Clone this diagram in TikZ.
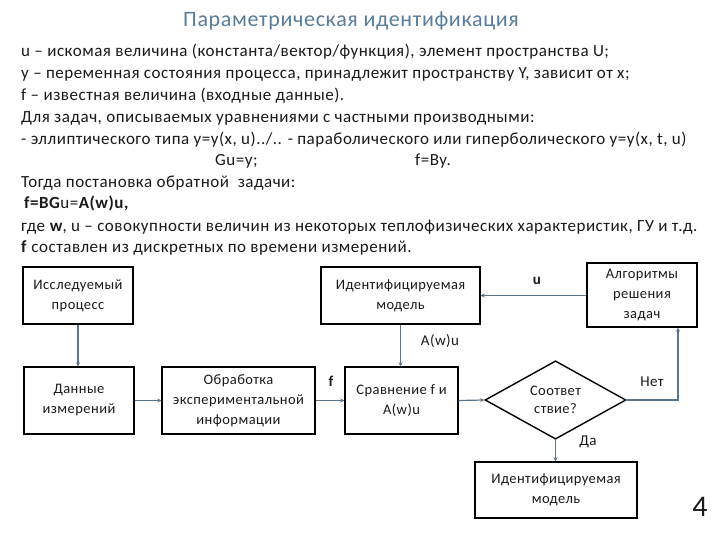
\documentclass[tikz,border=0pt]{standalone}
\usepackage{fontspec}
\setmainfont[LetterSpace=3]{Carlito}
\usetikzlibrary{shapes.geometric,arrows.meta,calc}
\definecolor{titleblue}{HTML}{5A7C9C}
\definecolor{linecol}{HTML}{5C7488}
\definecolor{txt}{HTML}{1A1A1A}
\tikzset{
  box/.style={draw=black,line width=1.4pt,fill=white,inner sep=1pt,align=center,font=\fontsize{14.5}{20}\selectfont,text=txt},
  conn/.style={draw=linecol,line width=1.2pt,-{Stealth[length=4pt,width=4pt]}},
  bodyline/.style={anchor=base west,inner sep=0pt,font=\fontsize{17}{20}\selectfont,text=txt},
  lbl/.style={inner sep=0pt,font=\fontsize{15}{17}\selectfont,text=txt}
}
\begin{document}
\begin{tikzpicture}[x=1pt,y=-1pt]
\path[use as bounding box,fill=white] (0,0) rectangle (720,540);
\node[inner sep=0pt,text=titleblue,font=\fontsize{22}{26}\selectfont] (title) at (351,21) {Параметрическая идентификация};
\node[bodyline] (t1) at (21,57) {u – искомая величина (константа/вектор/функция), элемент пространства U;};
\node[bodyline] (t2) at (21,79) {y – переменная состояния процесса, принадлежит пространству Y, зависит от x;};
\node[bodyline] (t3) at (21,101) {f – известная величина (входные данные).};
\node[bodyline] (t4) at (21,123) {Для задач, описываемых уравнениями с частными производными:};
\node[bodyline] (t5) at (21,145) {- эллиптического типа y=y(x, u)../.. - параболического или гиперболического y=y(x, t, u)};
\node[bodyline] (t6a) at (215,166) {Gu=y;};
\node[bodyline] (t6b) at (415,166) {f=By.};
\node[bodyline] (t7) at (21,188) {Тогда постановка обратной\ \ задачи:};
\node[bodyline] (t8) at (24,209) {\textbf{f=BG}u=\textbf{A(w)u,}};
\node[bodyline] (t9) at (21,231) {где \textbf{w}, u – совокупности величин из некоторых теплофизических характеристик, ГУ и т.д.};
\node[bodyline] (t10) at (21,252) {\textbf{f} составлен из дискретных по времени измерений.};

\node[box,minimum width=110pt,minimum height=57pt] (proc) at (78,295.5) {Исследуемый\\процесс};
\node[box,minimum width=110pt,minimum height=67pt] (data) at (79,400.5) {Данные\\измерений};
\node[box,minimum width=153pt,minimum height=67pt] (obr) at (238.5,400.5) {Обработка\\экспериментальной\\информации};
\node[box,minimum width=113pt,minimum height=67pt] (sr) at (401.5,400.5) {Сравнение f и\\A(w)u};
\node[box,diamond,inner sep=0pt,font=\fontsize{14.5}{18}\selectfont,minimum width=141pt,minimum height=68pt] (dia) at (555.5,400) {Соответ\\ствие?};
\node[box,minimum width=159pt,minimum height=57pt] (model) at (400.5,295.5) {Идентифицируемая\\модель};
\node[box,minimum width=110pt,minimum height=64pt] (alg) at (642,295) {Алгоритмы\\решения\\задач};
\node[box,minimum width=162pt,minimum height=56pt] (model2) at (556,490) {Идентифицируемая\\модель};

\draw[conn] (proc.south) -- (proc.south |- data.north);
\draw[conn] (data.east) -- (obr.west);
\draw[conn] (obr.east) -- (sr.west);
\draw[conn] (model.south) -- (model.south |- sr.north);
\draw[conn] (sr.east) -- (dia.west);
\coordinate (c1) at (678,400);
\draw[conn] (dia.east) -- (c1) -- (c1 |- alg.south);
\draw[conn] (alg.west |- model.east) -- (model.east);
\draw[conn] (dia.south) -- (dia.south |- model2.north);

\node[lbl,font=\bfseries\fontsize{15}{17}\selectfont] (lf) at (331,381) {f};
\node[lbl] (law) at (440,341) {A(w)u};
\node[lbl,font=\bfseries\fontsize{15}{17}\selectfont] (lu) at (537,281) {u};
\node[lbl] (lno) at (652,382) {Нет};
\node[lbl] (lyes) at (588,442) {Да};
\node[inner sep=0pt,font=\fontsize{30}{32}\selectfont,text=txt] (pg) at (700,507) {4};
\end{tikzpicture}
\end{document}
